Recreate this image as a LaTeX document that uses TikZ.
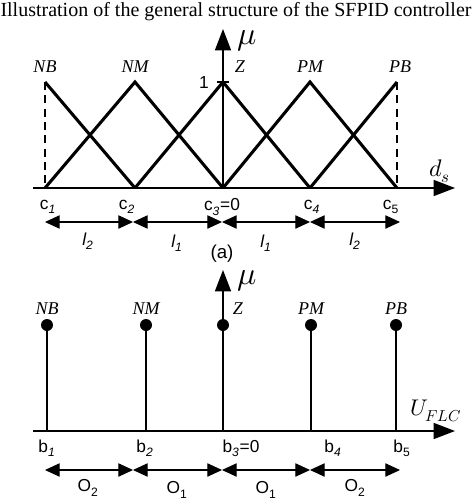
\documentclass[tikz,border=0pt]{standalone}
\usepackage{fontspec}
\usepackage{unicode-math}
\setmainfont{Liberation Serif}
\setsansfont{Liberation Sans}
\setmathfont{Latin Modern Math}
\usetikzlibrary{arrows.meta}
\usetikzlibrary{positioning}

\begin{document}
\begin{tikzpicture}[x=0.75pt,y=-0.75pt,
  axis/.style={line width=1.1pt,-{Triangle[length=16pt,width=12pt]}},
  mf/.style={line width=2.3pt},
  edge/.style={line width=1pt,dash pattern=on 6pt off 4pt},
  dim/.style={line width=0.8pt,{Triangle[length=11pt,width=10pt]}-{Triangle[length=11pt,width=10pt]}},
  set/.style={font=\fontsize{13.5}{15}\selectfont\itshape},
  lab/.style={font=\sffamily\fontsize{13}{15}\selectfont},
  big/.style={inner sep=0pt,font=\fontsize{#1}{#1}\selectfont},
  dot/.style={circle,inner sep=0pt,minimum size=9pt,fill,name=#1}]

\useasboundingbox (0,0) rectangle (474,500);

\node [inner sep=0pt] (title) at (236,12) {\fontsize{15}{17}\selectfont Illustration of the general structure of the SFPID controller};

% (a) membership functions of d_s
\coordinate (xa0) at (33,188);
\coordinate (xa1) at (455,188);
\coordinate (ya1) at (223,29);
\foreach \i/\x in {1/45,2/135,3/223,4/310,5/397}{
  \coordinate (c\i) at (\x,188);
  \coordinate (p\i) at (\x,82);
}
\coordinate (tl) at (217,82);
\coordinate (tr) at (229,82);

\draw [axis] (xa0) -- (xa1);
\draw [axis] (c3) -- (ya1);
\draw [line width=1.1pt] (tl) -- (tr);

\draw [mf] (p1) -- (c2);
\draw [mf] (c1) -- (p2) -- (c3);
\draw [mf] (c2) -- (p3) -- (c4);
\draw [mf] (c3) -- (p4) -- (c5);
\draw [mf] (c4) -- (p5);
\draw [edge] (p1) -- (c1);
\draw [edge] (p5) -- (c5);

\node [big=24] (mua) at (247,41) {$\mu$};
\node [big=18] (ds) at (440,171) {$d_s$};
\node [lab] (one) at (204,83) {1};

\node [set] (nb) at (45,67) {NB};
\node [set] (nm) at (135,67) {NM};
\node [set] (z) at (240,67) {Z};
\node [set] (pm) at (310,67) {PM};
\node [set] (pb) at (400,67) {PB};

\node [lab] (lc1) at (48,207) {c\textsubscript{\itshape 1}};
\node [lab] (lc2) at (127,207) {c\textsubscript{\itshape 2}};
\node [lab] (lc3) at (222,207) {c\textsubscript{\itshape 3}=0};
\node [lab] (lc4) at (312,207) {c\textsubscript{\itshape 4}};
\node [lab] (lc5) at (391,207) {c\textsubscript{5}};

\foreach \i/\x in {1/45,2/133,3/222,4/310,5/400}
  \coordinate (d\i) at (\x,222);
\draw [dim] (d1) -- (d2);
\draw [dim] (d2) -- (d3);
\draw [dim] (d3) -- (d4);
\draw [dim] (d4) -- (d5);

\node [lab] (l2a) at (88,241) {\itshape l\textsubscript{2}};
\node [lab] (l1a) at (177,243) {\itshape l\textsubscript{1}};
\node [lab] (l1b) at (266,243) {\itshape l\textsubscript{1}};
\node [lab] (l2b) at (355,241) {\itshape l\textsubscript{2}};

\node [lab,font=\sffamily\fontsize{14}{16}\selectfont] (capa) at (222,254) {(a)};

% singletons of U_FLC
\coordinate (xb0) at (33,431);
\coordinate (xb1) at (455,431);
\coordinate (yb1) at (223,270);
\foreach \i/\x in {1/47,2/146,3/223,4/311,5/396}{
  \coordinate (b\i) at (\x,431);
  \node [dot=s\i] at (\x,325) {};
}

\draw [axis] (xb0) -- (xb1);
\draw [axis] (b3) -- (yb1);
\foreach \i in {1,...,5}
  \draw [line width=1.1pt] (s\i.center) -- (b\i);

\node [big=24] (mub) at (247,281) {$\mu$};
\node [big=17] (uflc) at (436,411) {$U_{FLC}$};

\node [set] (snb) at (47,309) {NB};
\node [set] (snm) at (146,309) {NM};
\node [set] (sz) at (238,309) {Z};
\node [set] (spm) at (311,309) {PM};
\node [set] (spb) at (396,309) {PB};

\node [lab] (lb1) at (47,448) {b\textsubscript{\itshape 1}};
\node [lab] (lb2) at (145,448) {b\textsubscript{\itshape 2}};
\node [lab] (lb3) at (241,448) {b\textsubscript{\itshape 3}=0};
\node [lab] (lb4) at (333,448) {b\textsubscript{\itshape 4}};
\node [lab] (lb5) at (402,448) {b\textsubscript{5}};

\foreach \i/\x in {1/45,2/133,3/222,4/310,5/400}
  \coordinate (e\i) at (\x,470);
\draw [dim] (e1) -- (e2);
\draw [dim] (e2) -- (e3);
\draw [dim] (e3) -- (e4);
\draw [dim] (e4) -- (e5);

\node [lab] (o2a) at (88,488) {O\textsubscript{2}};
\node [lab] (o1a) at (177,490) {O\textsubscript{1}};
\node [lab] (o1b) at (266,490) {O\textsubscript{1}};
\node [lab] (o2b) at (355,488) {O\textsubscript{2}};

\end{tikzpicture}
\end{document}
